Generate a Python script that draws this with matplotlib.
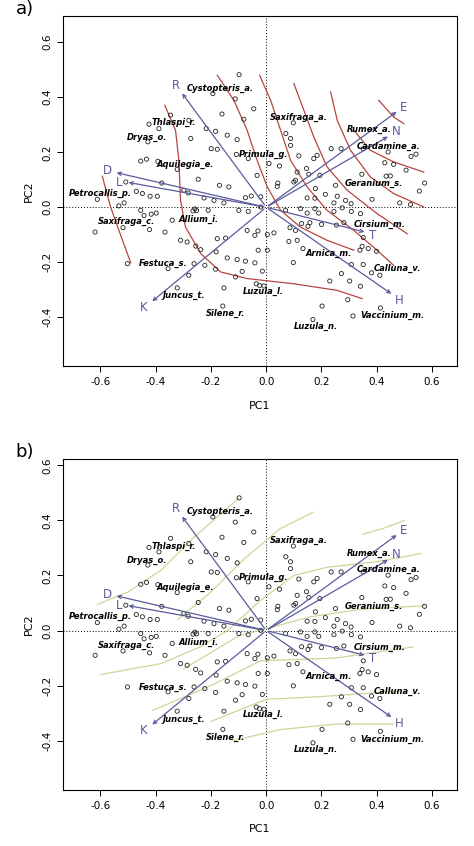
import numpy as np
import matplotlib
matplotlib.use("Agg")
import matplotlib.pyplot as plt

site_x = [-0.098,-0.193,-0.112,-0.045,-0.160,-0.081,-0.346,-0.424,-0.388,-0.280,-0.217,-0.183,-0.141,-0.105,-0.273,-0.428,
0.098,0.071,0.088,0.088,0.235,0.271,-0.199,-0.177,-0.108,-0.065,0.010,0.048,0.118,0.172,0.184,0.351,0.441,0.524,0.542,
-0.454,-0.433,-0.392,-0.322,0.429,0.461,0.506,0.146,0.154,0.194,-0.033,0.112,0.106,0.100,0.042,0.040,0.346,0.434,0.449,
0.573,0.554,0.383,0.483,0.522,-0.246,-0.169,-0.135,-0.378,-0.298,-0.282,-0.508,-0.470,-0.448,-0.420,-0.394,-0.611,-0.533,
-0.514,-0.225,-0.189,-0.153,-0.075,-0.054,-0.020,0.178,0.214,0.251,0.148,0.176,0.257,0.287,0.245,0.307,0.275,0.245,0.308,
0.341,0.176,0.148,0.190,0.124,0.070,-0.065,-0.099,-0.020,-0.258,-0.265,-0.252,-0.210,-0.454,-0.442,-0.416,-0.398,-0.340,
-0.619,-0.518,-0.422,-0.366,-0.310,-0.286,-0.255,-0.237,-0.177,-0.147,-0.069,-0.041,-0.030,0.004,0.028,0.086,0.106,0.158,
0.151,0.128,0.200,0.254,0.281,0.351,0.347,0.082,0.112,0.133,0.339,0.369,0.399,-0.029,0.004,-0.181,-0.141,-0.105,-0.075,
-0.041,-0.222,-0.183,-0.087,-0.014,-0.261,-0.355,-0.280,-0.502,0.098,0.308,0.351,0.381,0.411,0.272,0.230,0.302,0.341,
-0.111,-0.036,-0.024,-0.008,-0.153,-0.322,0.295,0.202,-0.157,0.169,0.314,0.413]
site_y = [0.482,0.413,0.394,0.358,0.339,0.320,0.335,0.302,0.286,0.316,0.286,0.276,0.262,0.246,0.250,0.238,
0.307,0.268,0.250,0.225,0.213,0.213,0.213,0.211,0.192,0.177,0.159,0.150,0.187,0.177,0.189,0.213,0.201,0.185,0.193,
0.168,0.175,0.167,0.138,0.162,0.156,0.135,0.141,0.120,0.116,0.116,0.128,0.098,0.092,0.088,0.076,0.120,0.113,0.114,
0.088,0.059,0.029,0.016,0.010,0.102,0.080,0.074,0.088,0.062,0.052,0.092,0.058,0.050,0.040,0.040,0.029,0.005,
0.016,0.034,0.025,0.016,0.035,0.041,0.038,0.068,0.047,0.080,0.034,0.033,0.040,0.025,0.016,0.013,-0.002,-0.015,-0.015,
-0.023,-0.005,-0.021,-0.021,-0.005,-0.011,-0.015,-0.011,0.001,-0.006,-0.013,-0.012,-0.011,-0.011,-0.030,-0.025,-0.021,-0.047,
-0.090,-0.074,-0.081,-0.090,-0.120,-0.126,-0.141,-0.154,-0.114,-0.112,-0.084,-0.102,-0.086,-0.099,-0.093,-0.074,-0.084,-0.056,
-0.069,-0.059,-0.062,-0.065,-0.056,-0.110,-0.142,-0.124,-0.120,-0.150,-0.156,-0.150,-0.160,-0.156,-0.156,-0.162,-0.184,-0.190,-0.196,
-0.202,-0.211,-0.225,-0.233,-0.232,-0.205,-0.223,-0.247,-0.205,-0.201,-0.208,-0.208,-0.238,-0.247,-0.241,-0.268,-0.268,-0.287,
-0.253,-0.278,-0.284,-0.286,-0.293,-0.293,-0.336,-0.359,-0.359,-0.408,-0.395,-0.366]

species = ["Cystopteris_a.","Thlaspi_r.","Dryas_o.","Aquilegia_e.","Petrocallis_p.","Saxifraga_c.","Allium_i.",
"Festuca_s.","Juncus_t.","Silene_r.","Luzula_l.","Luzula_n.","Vaccinium_m.","Calluna_v.","Arnica_m.","Cirsium_m.",
"Geranium_s.","Cardamine_a.","Rumex_a.","Saxifraga_a.","Primula_g."]
species_x = [-0.165,-0.334,-0.430,-0.292,-0.601,-0.505,-0.243,-0.372,-0.300,-0.147,-0.011,0.178,0.455,0.476,0.227,0.411,
0.389,0.443,0.371,0.118,-0.008]
species_y = [0.432,0.307,0.253,0.156,0.052,-0.053,-0.044,-0.205,-0.322,-0.387,-0.305,-0.433,-0.394,-0.223,-0.166,-0.062,
0.086,0.222,0.282,0.328,0.193]

env = ["R","E","N","D","L","T","H","K"]
env_x = [-0.310,0.480,0.449,-0.551,-0.508,0.365,0.461,-0.420]
env_y = [0.422,0.353,0.262,0.128,0.092,-0.092,-0.320,-0.348]
envlab_x = [-0.328,0.498,0.471,-0.575,-0.533,0.386,0.482,-0.442]
envlab_y = [0.444,0.362,0.276,0.132,0.090,-0.102,-0.338,-0.365]

contours_a = [
 [(-0.593,0.113),(-0.563,0.001),(-0.520,-0.120),(-0.490,-0.202)],
 [(-0.367,0.371),(-0.328,0.280),(-0.316,0.171),(-0.310,0.025),(-0.292,-0.072),(-0.237,-0.168),(-0.165,-0.235),(-0.069,-0.259),(0.100,-0.278),(0.257,-0.302),(0.347,-0.332)],
 [(-0.177,0.48),(-0.117,0.389),(-0.069,0.280),(-0.033,0.171),(0.004,0.074),(0.052,-0.011),(0.124,-0.072),(0.220,-0.120),(0.317,-0.156)],
 [(-0.024,0.48),(0.016,0.389),(0.052,0.280),(0.088,0.171),(0.148,0.074),(0.220,-0.011),(0.317,-0.084),(0.401,-0.156),(0.461,-0.211)],
 [(0.100,0.45),(0.136,0.353),(0.172,0.256),(0.220,0.147),(0.293,0.062),(0.401,-0.023),(0.510,-0.096)],
 [(0.233,0.419),(0.257,0.316),(0.305,0.207),(0.377,0.110),(0.461,0.050),(0.570,0.001)],
 [(0.407,0.389),(0.461,0.328),(0.498,0.304)],
 [(0.317,0.280),(0.377,0.207),(0.461,0.165),(0.570,0.128)],
]
contours_b = [
 [(-0.61,0.095),(-0.5,0.14),(-0.38,0.22),(-0.26,0.34),(-0.18,0.41),(-0.10,0.48)],
 [(-0.32,0.04),(-0.2,0.14),(-0.08,0.26),(0.05,0.37),(0.17,0.43)],
 [(-0.6,-0.16),(-0.38,-0.12),(-0.24,-0.06),(-0.14,0.0),(-0.02,0.11),(0.1,0.2),(0.22,0.23),(0.4,0.25),(0.56,0.28)],
 [(-0.3,-0.14),(-0.1,-0.02),(0.16,0.05),(0.34,0.077),(0.57,0.09)],
 [(-0.41,-0.29),(-0.2,-0.2),(-0.02,-0.11),(0.25,-0.1),(0.53,-0.06)],
 [(-0.2,-0.33),(0.0,-0.25),(0.2,-0.24),(0.48,-0.22)],
 [(-0.12,-0.4),(0.05,-0.36),(0.25,-0.34),(0.46,-0.34)],
 [(0.35,0.35),(0.42,0.37),(0.5,0.4)],
]

fig = plt.figure(figsize=(4.74, 8.46), dpi=100)
axa = fig.add_axes([0.133, 0.567, 0.831, 0.414])
axb = fig.add_axes([0.133, 0.066, 0.831, 0.392])
arrow_col = "#5b5b9e"

def panel(ax, contours, ccol, ylim, tag):
    for c in contours:
        c = np.array(c)
        ax.plot(c[:, 0], c[:, 1], color=ccol, lw=0.9, zorder=1)
    ax.axhline(0, color="k", ls=(0, (1, 2)), lw=0.7, zorder=0)
    ax.axvline(0, color="k", ls=(0, (1, 2)), lw=0.7, zorder=0)
    ax.scatter(site_x, site_y, s=9, facecolors="none", edgecolors="#222222", linewidths=0.6, zorder=2)
    for x, y in zip(env_x, env_y):
        ax.annotate("", xy=(x, y), xytext=(0, 0),
                    arrowprops=dict(arrowstyle="->", color=arrow_col, lw=0.9, mutation_scale=6), zorder=3)
    for n, x, y in zip(env, envlab_x, envlab_y):
        ax.text(x, y, n, color=arrow_col, fontsize=8.5, ha="center", va="center", zorder=4)
    for n, x, y in zip(species, species_x, species_y):
        ax.text(x, y, n, fontsize=6, fontweight="bold", fontstyle="italic", ha="center", va="center", zorder=4)
    ax.set_xlim(-0.735, 0.69)
    ax.set_ylim(*ylim)
    ax.set_xticks([-0.6, -0.4, -0.2, 0.0, 0.2, 0.4, 0.6])
    ax.set_yticks([-0.4, -0.2, 0.0, 0.2, 0.4, 0.6])
    ax.set_xticklabels(["-0.6", "-0.4", "-0.2", "0.0", "0.2", "0.4", "0.6"])
    ax.set_yticklabels(["-0.4", "-0.2", "0.0", "0.2", "0.4", "0.6"], rotation=90, va="center")
    ax.tick_params(labelsize=7.5, direction="out", length=4, width=0.7)
    for s in ax.spines.values():
        s.set_linewidth(0.8)
    ax.set_xlabel("PC1", fontsize=8, labelpad=10)
    ax.set_ylabel("PC2", fontsize=8, labelpad=6)
    ax.text(-0.12, 1.02, tag, transform=ax.transAxes, fontsize=13, ha="left", va="center")

panel(axa, contours_a, "#b5463f", (-0.578, 0.695), "a)")
panel(axb, contours_b, "#c8d89a", (-0.58, 0.625), "b)")
fig.savefig("out.png", dpi=100)
